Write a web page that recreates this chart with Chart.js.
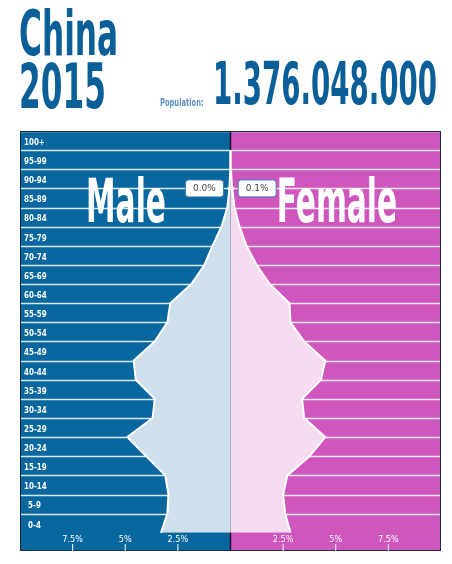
<!DOCTYPE html>
<html><head><meta charset="utf-8">
<script src="https://cdn.jsdelivr.net/npm/chart.js@4"></script>
<style>
body{margin:0;background:#fff;width:452px;height:564px;overflow:hidden;font-family:"Liberation Sans Narrow","DejaVu Sans Condensed",sans-serif}
.t{position:absolute;color:#0b5f98;font-weight:bold;transform-origin:0 0;white-space:nowrap;line-height:1}
#c{position:absolute;left:0;top:0}
</style></head><body>
<canvas id="c" width="452" height="564"></canvas>
<div class="t" style="left:19px;top:3px;font-size:62px;transform:scaleX(0.56)">China</div>
<div class="t" style="left:19px;top:56px;font-size:62px;transform:scaleX(0.56)">2015</div>
<div class="t" style="left:160px;top:97px;font-size:11px;color:#5b90c4;transform:scaleX(0.68)">Population:</div>
<div class="t" style="left:213px;top:55px;font-size:58px;transform:scaleX(0.53)">1.376.048.000</div>
<script>
const ageGroups=["0-4","5-9","10-14","15-19","20-24","25-29","30-34","35-39","40-44","45-49","50-54","55-59","60-64","65-69","70-74","75-79","80-84","85-89","90-94","95-99","100+"];
const male=[3.3,3.0,2.95,3.1,4.0,4.9,3.7,3.6,4.5,4.6,3.6,3.0,2.86,1.86,1.24,0.86,0.43,0.15,0.05,0.01,0];
const female=[2.85,2.6,2.5,2.7,3.75,4.5,3.5,3.4,4.3,4.5,3.5,2.85,2.8,1.86,1.24,0.76,0.43,0.19,0.08,0.02,0];
const xTicks=[-7.5,-5,-2.5,2.5,5,7.5];
const tipIndex=18;
const tipLabels=["0.0%","0.1%"];

const bg={id:'bg',beforeDraw(ch){const {ctx,chartArea:a,scales:{x,y}}=ch;const cx=x.getPixelForValue(0);
ctx.save();ctx.fillStyle='#08679f';ctx.fillRect(a.left,a.top,cx-a.left,a.bottom-a.top);
ctx.fillStyle='#cf56bd';ctx.fillRect(cx,a.top,a.right-cx,a.bottom-a.top);
ctx.strokeStyle='rgba(255,255,255,0.85)';ctx.lineWidth=1.5;
for(let i=1;i<=21;i++){const py=Math.round(y.getPixelForValue(i))+0.5;ctx.beginPath();ctx.moveTo(a.left,py);ctx.lineTo(a.right,py);ctx.stroke();}
ctx.strokeStyle='#2a1030';ctx.lineWidth=1.5;ctx.beginPath();ctx.moveTo(cx,a.top);ctx.lineTo(cx,a.bottom);ctx.stroke();
ctx.restore();},
afterDatasetsDraw(ch){const {ctx,chartArea:a,scales:{x,y}}=ch;ctx.save();
ctx.strokeStyle='#1b2b3a';ctx.lineWidth=1;ctx.strokeRect(a.left+0.5,a.top+0.5,a.right-a.left-1,a.bottom-a.top-1);
ctx.fillStyle='#fff';ctx.font='bold 9px "DejaVu Sans Condensed",sans-serif';ctx.textBaseline='middle';ctx.textAlign='left';
ageGroups.forEach((g,i)=>{const py=y.getPixelForValue(i+0.5);ctx.save();ctx.translate(a.left+(i<2?8:4),py+2);ctx.scale(0.88,1);ctx.fillText(g,0,0);ctx.restore();});
ctx.textAlign='center';ctx.font='9px "DejaVu Sans Condensed",sans-serif';
const by=a.bottom-8;
xTicks.forEach(v=>{const px=x.getPixelForValue(v);ctx.fillText(Math.abs(v)+'%',px,by-3);ctx.strokeStyle='#fff';ctx.beginPath();ctx.moveTo(px,by+1);ctx.lineTo(px,a.bottom);ctx.stroke();});
ctx.textBaseline='alphabetic';
ctx.font='bold 60px "Liberation Sans Narrow","DejaVu Sans Condensed",sans-serif';
ctx.save();ctx.translate(126,222);ctx.scale(0.55,1);ctx.fillText('Male',0,0);ctx.restore();
ctx.save();ctx.translate(337,222);ctx.scale(0.55,1);ctx.fillText('Female',0,0);ctx.restore();
ctx.textBaseline='middle';
const ty=y.getPixelForValue(tipIndex);
[[-male[tipIndex],-1],[female[tipIndex],1]].forEach((p,k)=>{const px=x.getPixelForValue(p[0]);
const w=38,h=17;const bx=p[1]<0?px-6-w:px+6;
ctx.fillStyle='#fff';ctx.strokeStyle='#3b78b0';ctx.lineWidth=1;ctx.beginPath();ctx.roundRect(bx,ty-h/2,w,h,3);ctx.fill();ctx.stroke();
ctx.fillStyle='#444';ctx.font='9px "DejaVu Sans",sans-serif';ctx.fillText(tipLabels[k],bx+w/2,ty+0.5);
ctx.fillStyle='#fff';ctx.beginPath();ctx.arc(px,ty,2,0,7);ctx.fill();});
ctx.restore();}};

new Chart(document.getElementById('c'),{type:'line',
data:{datasets:[
{data:male.map((v,i)=>({x:-v,y:i})),borderColor:'#fff',borderWidth:2,backgroundColor:'#cee0ec',fill:'origin',pointRadius:0,tension:0},
{data:female.map((v,i)=>({x:v,y:i})),borderColor:'#fff',borderWidth:2,backgroundColor:'#f6dcf1',fill:'origin',pointRadius:0,tension:0}]},
options:{indexAxis:'y',responsive:false,animation:false,events:[],
layout:{padding:{left:20,right:11,top:131,bottom:13}},
plugins:{legend:{display:false},tooltip:{enabled:false}},
scales:{x:{type:'linear',min:-10,max:10,display:false},y:{type:'linear',min:-0.95,max:21,display:false}}},
plugins:[bg]});
</script></body></html>
